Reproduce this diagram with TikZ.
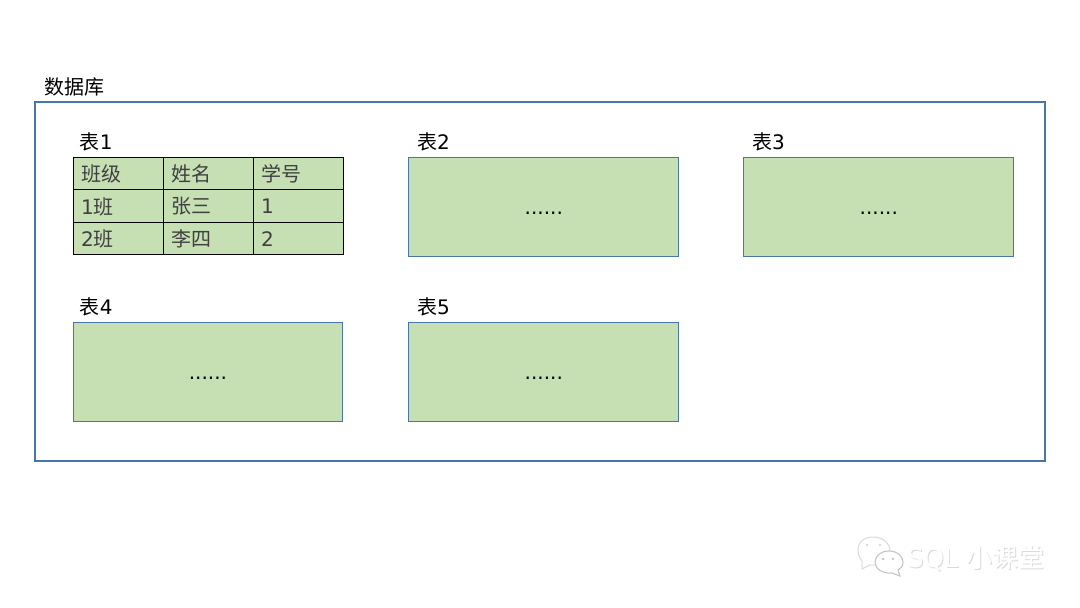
\documentclass[tikz,border=0pt]{standalone}
\usepackage{fontspec}
\setmainfont{DejaVu Sans}
\newfontfamily\cjk{Noto Sans CJK SC}
\definecolor{frameblue}{HTML}{4A76A6}
\definecolor{cellgreen}{HTML}{C6E0B4}
\definecolor{celltext}{HTML}{404040}
\definecolor{wmgray}{HTML}{DADADA}
\definecolor{wmdark}{HTML}{C4C4C4}
\newcommand{\dotsrow}{\strut\raisebox{-2.5pt}{......}}
\tikzset{
  x=1pt,y=-1pt,
  lbl/.style={inner sep=0pt,anchor=west,font=\fontsize{20}{24}\selectfont,text=black},
  greenbox/.style={draw=frameblue,line width=1pt,fill=cellgreen,minimum width=270pt,minimum height=99pt,inner sep=0pt,anchor=north west,font=\fontsize{20}{24}\selectfont},
  cell/.style={draw=black,line width=0.9pt,fill=cellgreen,outer sep=0pt,minimum width=90pt,minimum height=32.4pt,inner sep=0pt,anchor=north west},
  celltxt/.style={inner sep=0pt,anchor=west,font=\fontsize{20}{24}\selectfont,text=celltext},
  wmtext/.style={inner sep=0pt,anchor=west,font=\fontsize{26}{26}\selectfont},
}
\begin{document}
\begin{tikzpicture}
\useasboundingbox (0,0) rectangle (1080,608);
\node[draw=frameblue,line width=2pt,minimum width=1009.6pt,minimum height=358.6pt,inner sep=0pt,anchor=north west] (db) at (34.2,101.2) {};
\node[lbl] (dbl) at (44,86.5) {\cjk 数据库};
\node[lbl] (t1) at (79.6,141.5) {\cjk 表\normalfont 1};
\node[lbl] (t2) at (417,141.5) {\cjk 表\normalfont 2};
\node[lbl] (t3) at (752,141.5) {\cjk 表\normalfont 3};
\node[lbl] (t4) at (79.6,306.5) {\cjk 表\normalfont 4};
\node[lbl] (t5) at (417,306.5) {\cjk 表\normalfont 5};
% table 1
\node[cell] (a1) at (73.3,157.5) {};
\node[cell] (a2) at (163.3,157.5) {};
\node[cell] (a3) at (253.3,157.5) {};
\node[cell] (b1) at (73.3,189.9) {};
\node[cell] (b2) at (163.3,189.9) {};
\node[cell] (b3) at (253.3,189.9) {};
\node[cell] (c1) at (73.3,222.3) {};
\node[cell] (c2) at (163.3,222.3) {};
\node[cell] (c3) at (253.3,222.3) {};
\node[celltxt] (ta1) at (81,174) {\cjk 班级};
\node[celltxt] (ta2) at (171,174) {\cjk 姓名};
\node[celltxt] (ta3) at (261,174) {\cjk 学号};
\node[celltxt] (tb1) at (81,206.5) {1\cjk 班};
\node[celltxt] (tb2) at (171,206.5) {\cjk 张三};
\node[celltxt] (tb3) at (261,206.5) {1};
\node[celltxt] (tc1) at (81,239) {2\cjk 班};
\node[celltxt] (tc2) at (171,239) {\cjk 李四};
\node[celltxt] (tc3) at (261,239) {2};
% other tables
\node[greenbox] (g2) at (408.3,157) {\dotsrow};
\node[greenbox] (g3) at (743.3,157) {\dotsrow};
\node[greenbox,minimum width=269.8pt] (g4) at (72.5,322) {\dotsrow};
\node[greenbox] (g5) at (408.3,322) {\dotsrow};
% watermark
\draw[wmgray,line width=1pt,fill=white] (862,561) .. controls (855,553) and (856,537) .. (873,537) .. controls (884,537) and (890,544) .. (890,552) .. controls (890,561) and (880,566) .. (870,565) -- (862,569) -- cycle;
\draw[wmdark,line width=1.1pt,fill=white] (875,562) .. controls (875,556) and (881,551) .. (889,551) .. controls (897,551) and (903,556) .. (903,562) .. controls (903,566) and (901,569) .. (898,570) -- (900,576) -- (892,573) .. controls (883,574) and (875,569) .. (875,562) -- cycle;
\fill[wmgray] (867,545) circle (1.4) (880,545) circle (1.4);
\fill[wmdark] (883,559) circle (1.3) (893,559) circle (1.3);
\node[wmtext,text=wmgray] (wmshadow) at (907.8,558.8) {SQL \cjk 小课堂};
\node[wmtext,text=white] (wm) at (907,558) {SQL \cjk 小课堂};
\end{tikzpicture}
\end{document}
